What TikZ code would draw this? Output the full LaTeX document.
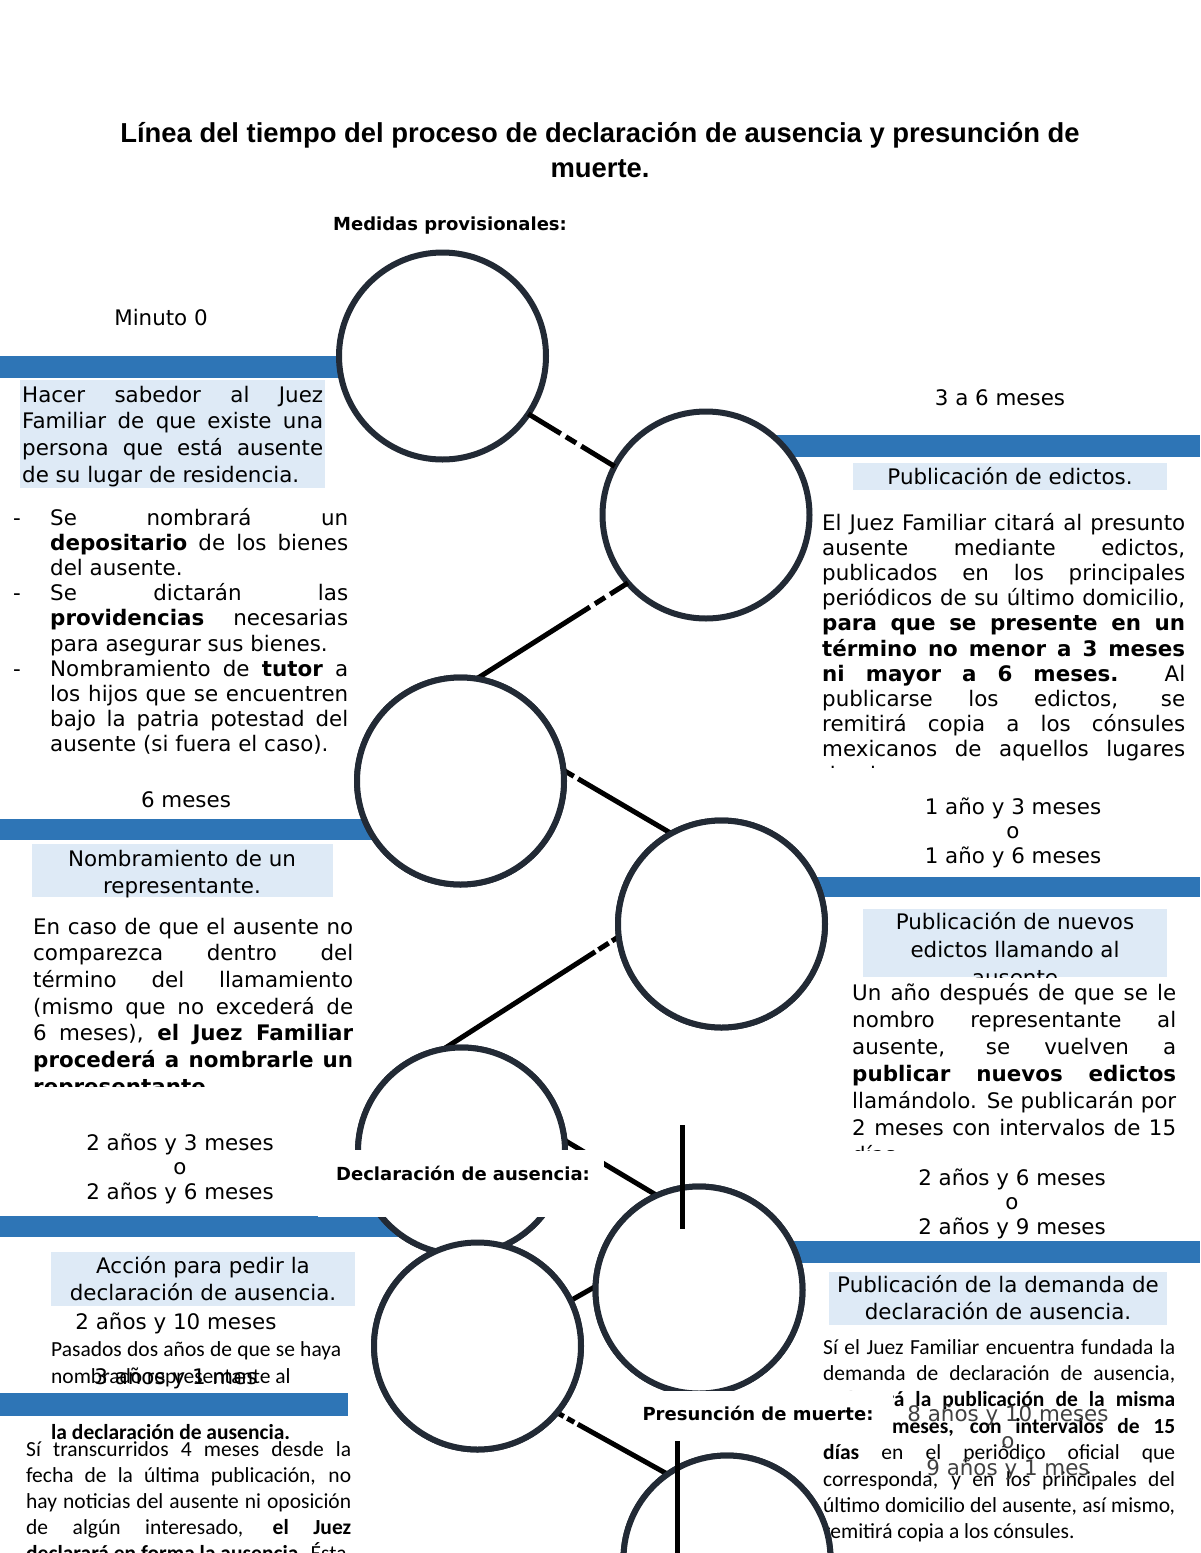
\documentclass[tikz,border=0pt]{standalone}
\usepackage{fontspec}
\setmainfont{DejaVu Sans}
\newfontfamily\titlefont{Liberation Sans}
\newfontfamily\calfont{Carlito}
\definecolor{barblue}{RGB}{46,117,182}
\definecolor{tagblue}{RGB}{222,234,246}
\definecolor{ringcol}{RGB}{34,42,53}
\setlength{\parindent}{0pt}
\tolerance=10000
\hbadness=10000
\hyphenpenalty=10000
\exhyphenpenalty=10000
\newcommand{\guion}{\leavevmode\llap{\makebox[37pt][l]{-}}}

\begin{document}
\begin{tikzpicture}[x=1pt,y=-1pt]

    \tikzset{
      ring/.style={
        circle,
        draw=ringcol,
        line width=6pt,
        fill=white,
        minimum size=207pt,
        inner sep=0pt,
        outer sep=0pt,
      },
      link/.style={line width=5pt, black},
      body/.style={anchor=base west, inner sep=0pt, align=justify,
        font=\fontsize{21.4}{25.2}\selectfont},
      when/.style={anchor=base, inner sep=0pt, align=center,
        font=\fontsize{21.4}{24.5}\selectfont},
      head/.style={anchor=base, inner sep=0pt,
        font=\bfseries\fontsize{18}{22}\selectfont},
      note/.style={anchor=base west, inner sep=0pt, align=justify,
        font=\calfont\fontsize{21.5}{26.4}\selectfont},
    }
    \useasboundingbox (0,0) rectangle (1200,1553);

	% bands and label boxes
	\fill[barblue] (0,356) rectangle (380,378);
	\fill[barblue] (700,435) rectangle (1200,457);
	\fill[barblue] (0,819) rectangle (420,840);
	\fill[barblue] (760,877) rectangle (1200,897);
	\fill[barblue] (0,1216) rectangle (420,1237);
	\fill[barblue] (720,1241) rectangle (1200,1263);
	\fill[barblue] (0,1393) rectangle (348,1416);
	\fill[tagblue] (20,380) rectangle (325,488);
	\fill[tagblue] (853,463) rectangle (1167,490);
	\fill[tagblue] (32,844) rectangle (333,897);
	\fill[tagblue] (863,909) rectangle (1167,977);
	\fill[tagblue] (51,1252) rectangle (355,1306);
	\fill[tagblue] (829,1272) rectangle (1167,1325);

	% title (base = last line)
	\node[anchor=base, inner sep=0pt, align=center,
	  font=\titlefont\bfseries\fontsize{27.4}{35}\selectfont] (title) at (600,177)
	  {Línea del tiempo del proceso de declaración de ausencia y presunción de\\muerte.};
	\node[head] (medidas) at (450,230) {Medidas provisionales:};

	% time marks
	\node[when] (t0) at (161,325) {Minuto 0};
	\node[when] (t1) at (1000,405) {3 a 6 meses};
	\node[when] (t2) at (186,807) {6 meses};
	\node[when] (t3) at (1013,863) {1 año y 3 meses\\o\\1 año y 6 meses};
	\node[when] (t4) at (180,1199) {2 años y 3 meses\\o\\2 años y 6 meses};
	\node[when] (t5) at (1012,1234) {2 años y 6 meses\\o\\2 años y 9 meses};

	% step titles
	\node[body, text width=301pt, font=\fontsize{21.4}{26.7}\selectfont] (aviso) at (22,402)
	  {Hacer sabedor al Juez\linebreak Familiar de que existe una\linebreak persona que está ausente\linebreak de su lugar de residencia.};
	\node[when] (edictostag) at (1010,484) {Publicación de edictos.};
	\node[when, font=\fontsize{21.4}{27}\selectfont] (reptag) at (182,893) {Nombramiento de un\\representante.};
	\begin{scope}
	  \clip (863,909) rectangle (1167,977);
	  \node[when, font=\fontsize{21.4}{28}\selectfont] (nuevostag) at (1015,985) {Publicación de nuevos\\edictos llamando al\\ausente};
	\end{scope}
	\node[when, font=\fontsize{21.4}{27}\selectfont] (acciontag) at (203,1300) {Acción para pedir la\\declaración de ausencia.};
	\node[when, font=\fontsize{21.4}{27}\selectfont] (demandatag) at (998,1319) {Publicación de la demanda de\\declaración de ausencia.};

	% step texts
	\node[body, text width=298pt] (provisiones) at (50,525)
	  {\guion Se nombrará un\linebreak \textbf{depositario} de los bienes\linebreak del ausente.\par
	   \guion Se dictarán las\linebreak \textbf{providencias} necesarias\linebreak para asegurar sus bienes.\par
	   \guion Nombramiento de \textbf{tutor} a\linebreak los hijos que se encuentren\linebreak bajo la patria potestad del\linebreak ausente (si fuera el caso).};
	\begin{scope}
	  \clip (790,500) rectangle (1200,767);
	  \node[body, text width=363pt] (edictos) at (822,530)
	    {El Juez Familiar citará al presunto\linebreak ausente mediante edictos,\linebreak publicados en los principales\linebreak periódicos de su último domicilio,\linebreak \textbf{para que se presente en un\linebreak término no menor a 3 meses\linebreak ni mayor a 6 meses.} Al\linebreak publicarse los edictos, se\linebreak remitirá copia a los cónsules\linebreak mexicanos de aquellos lugares\linebreak donde se presuma que se encuentre.};
	\end{scope}
	\begin{scope}
	  \clip (0,900) rectangle (400,1086);
	  \node[body, text width=320pt, font=\fontsize{21.4}{26.7}\selectfont] (representante) at (33,934)
	    {En caso de que el ausente no\linebreak comparezca dentro del\linebreak término del llamamiento\linebreak (mismo que no excederá de\linebreak 6 meses), \textbf{el Juez Familiar\linebreak procederá a nombrarle un\linebreak representante.}};
	\end{scope}
	\begin{scope}
	  \clip (840,980) rectangle (1200,1150);
	  \node[body, text width=324pt, font=\fontsize{21.4}{27}\selectfont] (nuevos) at (852,1000)
	    {Un año después de que se le\linebreak nombro representante al\linebreak ausente, se vuelven a\linebreak \textbf{publicar nuevos edictos}\linebreak llamándolo. Se publicarán por\linebreak 2 meses con intervalos de 15\linebreak días.};
	\end{scope}
	\node[when] (t6) at (176,1329) {2 años y 10 meses};
	\node[note, text width=290pt, font=\calfont\fontsize{21.5}{27.5}\selectfont] (pasados) at (51,1356)
	  {\parfillskip=0pt Pasados dos años de que se haya\linebreak nombrado representante al};
	\node[when] (t7) at (176,1384) {3 años y 1 mes};
	\node[note, align=left, font=\calfont\bfseries\fontsize{21.5}{26.4}\selectfont] (pedir) at (51,1439)
	  {la declaración de ausencia.};
	\node[note, text width=325pt, font=\calfont\fontsize{21.5}{26}\selectfont] (transcurso) at (26,1456)
	  {\parfillskip=0pt Sí transcurridos 4 meses desde la\linebreak fecha de la última publicación, no\linebreak hay noticias del ausente ni oposición\linebreak de algún interesado, \textbf{el Juez\linebreak declarará en forma la ausencia.} Ésta};
	\node[note, text width=352pt] (demanda) at (823,1354)
	  {Sí el Juez Familiar encuentra fundada la\linebreak demanda de declaración de ausencia,\linebreak \textbf{ordenará la publicación de la misma\linebreak por 3 meses, con intervalos de 15\linebreak días} en el periódico oficial que\linebreak corresponda, y en los principales del\linebreak último domicilio del ausente, así mismo,\linebreak remitirá copia a los cónsules.};

	% the circles and their links
	\node[ring] (c1) at (442.5,356) {};
	\node[ring] (c2) at (706,515) {};
	\node[ring] (c3) at (460.5,781) {};
	\node[ring] (c4) at (721.5,924) {};
	\draw[link, dash pattern=on 38pt off 6pt on 12pt off 6pt on 300pt] (c1.-34) -- (c2.152);
	\draw[link, dash pattern=on 21pt off 6pt on 12pt off 6pt on 300pt] (c2.221) -- (c3.81);
	\draw[link, dash pattern=on 12pt off 5pt on 300pt] (c3.6) -- (c4.119);
	\node[ring] (c5) at (461.5,1151) {};
	\draw[link, dash pattern=on 8pt off 4pt on 12pt off 4pt on 300pt] (c4.187) -- (c5.100);
	\node[ring] (c6) at (699,1290) {};
	\draw[link] (c5.6) -- (c6.114);
	\node[ring] (c7) at (477.5,1346) {};
	\draw[link] (c7.26) -- (c6.178);
	\node[ring] (c8) at (727,1559) {};
	\draw[link, dash pattern=on 8pt off 4pt on 8pt off 4pt on 300pt] (c7.-40) -- (c8.125);
	\node[ring] at (c3) {};
	\node[ring] at (c4) {};
	\node[ring] at (c5) {};
	\node[ring] at (c6) {};
	\node[ring] at (c7) {};
	\node[ring] at (c8) {};

	% stage headings over the circles
	\fill[white] (318,1150) rectangle (604,1217);
	\node[head] (declaracion) at (463,1180) {Declaración de ausencia:};
	\fill[white] (632,1391) rectangle (893,1441);
	\node[head] (presuncion) at (758,1420) {Presunción de muerte:};
	\node[when, text=black!75, font=\fontsize{21.4}{27}\selectfont] (t8) at (1008,1475) {8 años y 10 meses\\o\\9 años y 1 mes};
	\coordinate (tickA) at (682,1125);
	\coordinate (tickB) at (682,1229);
	\coordinate (tickC) at (677,1441);
	\coordinate (tickD) at (677,1560);
	\draw[line width=5pt, black] (tickA) -- (tickB);
	\draw[line width=5pt, black] (tickC) -- (tickD);

\end{tikzpicture}
\end{document}
